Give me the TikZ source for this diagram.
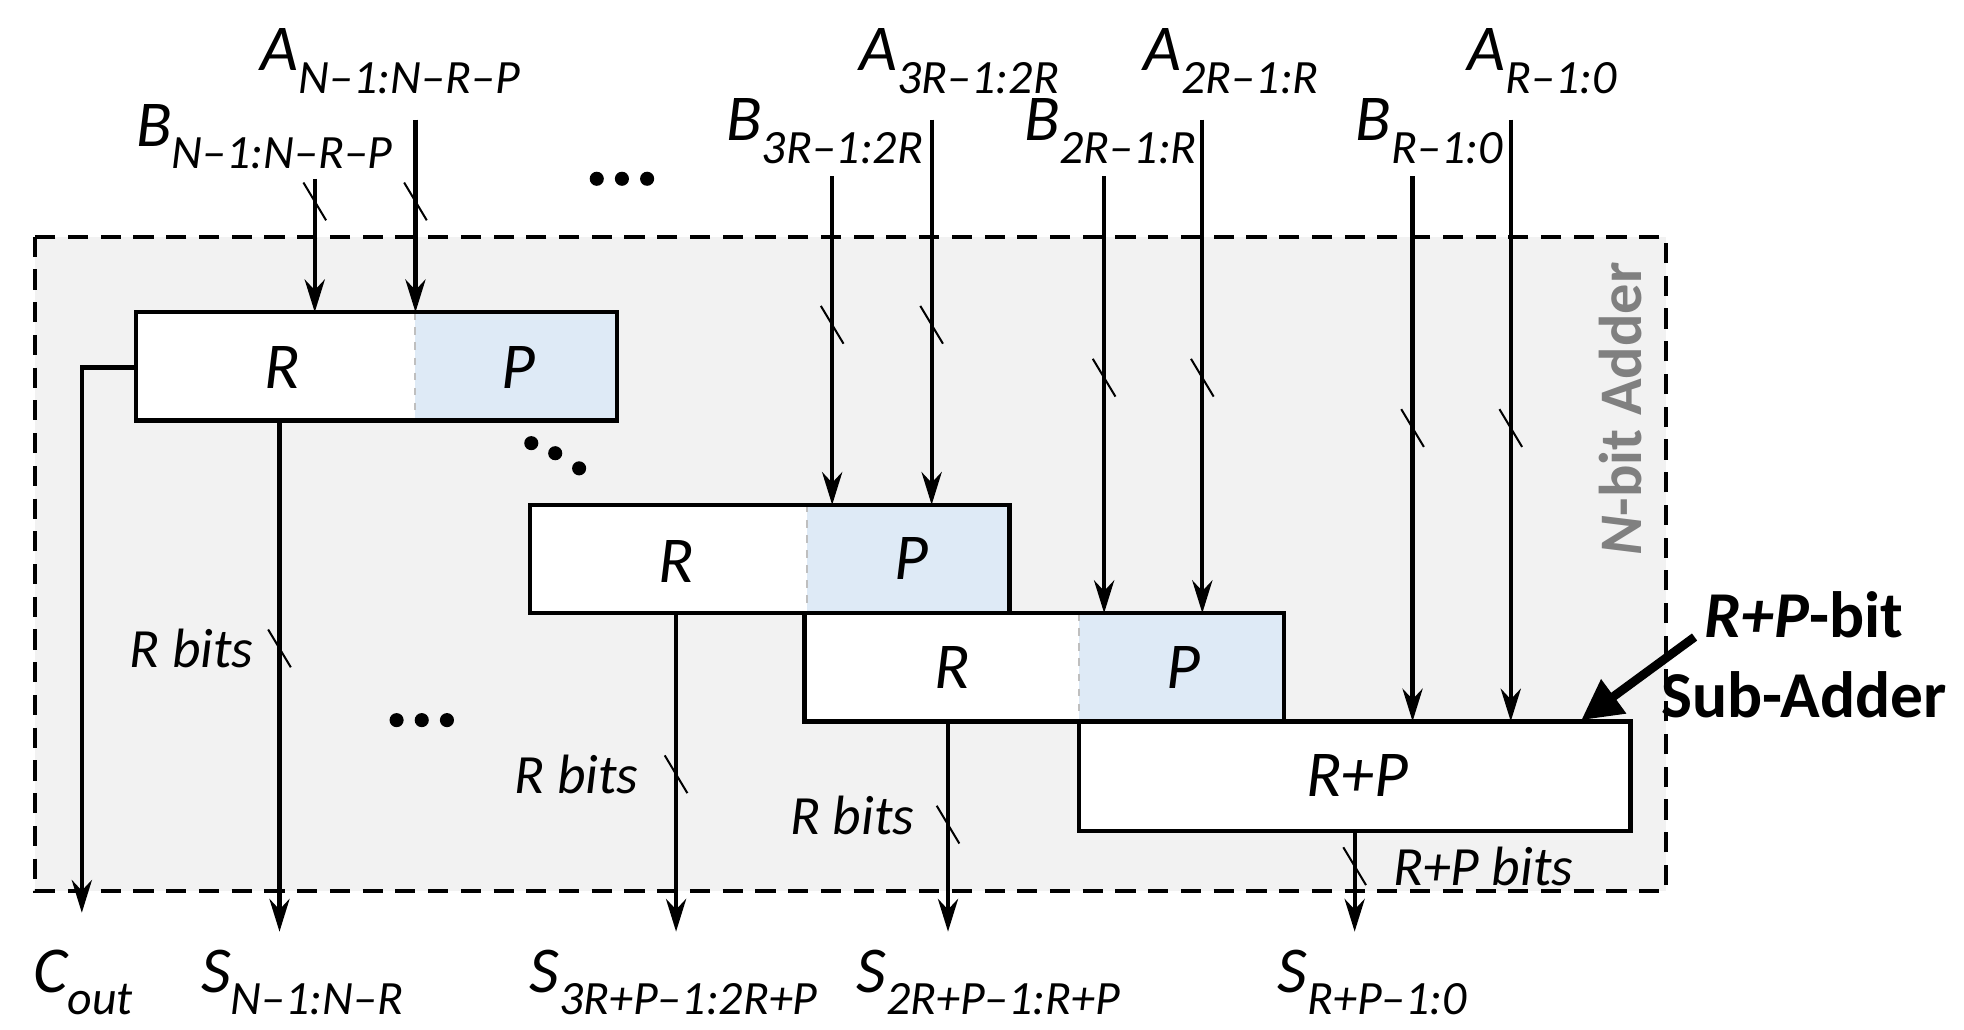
\documentclass[tikz,border=0pt]{standalone}
\usepackage{fontspec}
\setmainfont{Carlito}
\usetikzlibrary{arrows.meta}
\newcommand{\mysub}[1]{\raisebox{-0.35em}{\fontsize{19}{19}\selectfont #1}}
\begin{document}
\begin{tikzpicture}[x=0.5pt,y=-0.5pt,
  lab/.style={font=\fontsize{26}{30}\selectfont\itshape, inner sep=0},
  bits/.style={font=\fontsize{22}{26}\selectfont\itshape, inner sep=0},
  sig/.style={line width=1.7pt,-{Stealth[length=13pt,width=8pt]}},
  sl/.style={line width=0.8pt}]
\useasboundingbox (0,0) rectangle (1560,818);
\fill[gray!10] (28,188) rectangle (1323,708);
\draw[dashed, line width=1.6pt, dash pattern=on 8pt off 5pt] (28,188) rectangle (1323,708);
\newcommand{\ablock}[4]{%
 \fill[fill={rgb,255:red,222;green,234;blue,246}] (#2,#3) rectangle (#4,#3+86);
 \fill[white] (#1,#3) rectangle (#2,#3+86);
 \draw[gray!50, line width=0.8pt, dashed] (#2,#3) -- (#2,#3+86);
 \draw[line width=1.8pt] (#1,#3) rectangle (#4,#3+86);}
\ablock{108}{330}{248}{490}
\ablock{421}{641}{401}{802}
\ablock{639}{857}{487}{1020}
\node[lab] (r1) at (224,292) {R}; \node[lab] (p1) at (412,292) {P};
\node[lab] (r2) at (537,446) {R}; \node[lab] (p2) at (724,444) {P};
\node[lab] (r3) at (756,530) {R}; \node[lab] (p3) at (940,530) {P};
\draw[fill=white, line width=1.8pt] (857,573) rectangle (1295,660);
\node[lab] (rp) at (1078,616) {R+P};
\node[lab, anchor=base] (a1) at (310,56) {A\mysub{N--1:N--R--P}};
\node[lab, anchor=base] (b1) at (210,116) {B\mysub{N--1:N--R--P}};
\node[lab, anchor=base] (a2) at (762,56) {A\mysub{3R--1:2R}};
\node[lab, anchor=base] (b2) at (655,112) {B\mysub{3R--1:2R}};
\node[lab, anchor=base] (a3) at (978,56) {A\mysub{2R--1:R}};
\node[lab, anchor=base] (b3) at (882,112) {B\mysub{2R--1:R}};
\node[lab, anchor=base] (a4) at (1225,56) {A\mysub{R--1:0}};
\node[lab, anchor=base] (b4) at (1135,112) {B\mysub{R--1:0}};
\coordinate (ia1) at (330,95); \coordinate (ea1) at (330,248);
\coordinate (ib1) at (250,142); \coordinate (eb1) at (250,248);
\draw[sig] (ia1) -- (ea1); \draw[sig] (ib1) -- (eb1);
\coordinate (ia2) at (740,95); \coordinate (ea2) at (740,401);
\coordinate (ib2) at (661,140); \coordinate (eb2) at (661,401);
\draw[sig] (ia2) -- (ea2); \draw[sig] (ib2) -- (eb2);
\coordinate (ia3) at (955,95); \coordinate (ea3) at (955,487);
\coordinate (ib3) at (877,140); \coordinate (eb3) at (877,487);
\draw[sig] (ia3) -- (ea3); \draw[sig] (ib3) -- (eb3);
\coordinate (ia4) at (1200,95); \coordinate (ea4) at (1200,573);
\coordinate (ib4) at (1122,140); \coordinate (eb4) at (1122,573);
\draw[sig] (ia4) -- (ea4); \draw[sig] (ib4) -- (eb4);
\foreach \x/\y in {250/160,330/160,661/258,740/258,877/300,955/300,1122/340,1200/340,222/515,537/615,753/655,1076/688}
  \draw[sl] (\x-9,\y-15) -- (\x+9,\y+15);
\coordinate (c0) at (108,292); \coordinate (c1) at (65,292); \coordinate (c2) at (65,725);
\draw[sig] (c0) -- (c1) -- (c2);
\coordinate (o1) at (222,335); \coordinate (e1) at (222,740); \draw[sig] (o1) -- (e1);
\coordinate (o2) at (537,487); \coordinate (e2) at (537,740); \draw[sig] (o2) -- (e2);
\coordinate (o3) at (753,573); \coordinate (e3) at (753,740); \draw[sig] (o3) -- (e3);
\coordinate (o4) at (1076,660); \coordinate (e4) at (1076,740); \draw[sig] (o4) -- (e4);
\node[bits] at (152,515) {R bits};
\node[bits] at (458,615) {R bits};
\node[bits] at (677,648) {R bits};
\node[bits] at (1178,688) {R+P bits};
\node[lab, anchor=base] (co) at (66,788) {C\mysub{out}};
\node[lab, anchor=base] (s1) at (240,788) {S\mysub{N--1:N--R}};
\node[lab, anchor=base] (s2) at (535,788) {S\mysub{3R+P--1:2R+P}};
\node[lab, anchor=base] (s3) at (785,788) {S\mysub{2R+P--1:R+P}};
\node[lab, anchor=base] (s4) at (1090,788) {S\mysub{R+P--1:0}};
\foreach \x/\y in {474/142,494/142,514/142, 422/352,441/360,460/372, 315/572,335/572,355/572}
  \fill (\x,\y) circle (2.8pt);
\node[rotate=90, text=gray, font=\fontsize{24}{28}\selectfont\bfseries] at (1287,325) {\textit{N}-bit Adder};
\node[font=\fontsize{26}{30}\selectfont\bfseries, inner sep=0] (sa1) at (1433,488) {\textit{R+P}-bit};
\node[font=\fontsize{26}{30}\selectfont\bfseries, inner sep=0] (sa2) at (1433,552) {Sub-Adder};
\draw[line width=3.5pt,-{Triangle[length=16pt,width=16pt]}] (1346,506) -- (1256,572);
\end{tikzpicture}
\end{document}
